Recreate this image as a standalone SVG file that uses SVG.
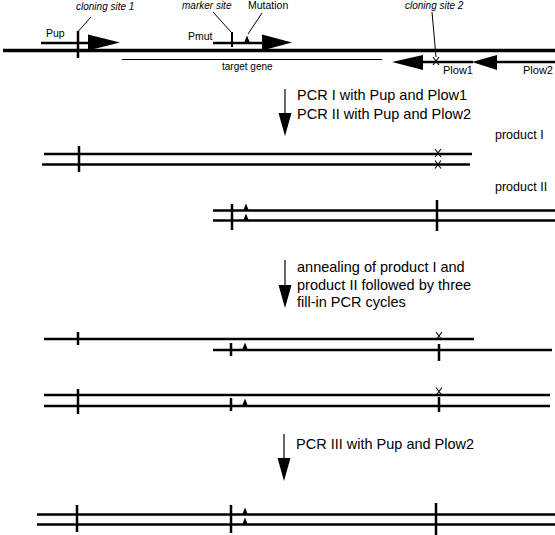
<svg xmlns="http://www.w3.org/2000/svg" xmlns:xlink="http://www.w3.org/1999/xlink" width="555" height="535" viewBox="0 0 555 535">
<style>
.bg{fill:#fff}
.dna{stroke:#000;stroke-width:2.3;fill:none}
.main{stroke:#000;stroke-width:3.5;fill:none}
.primer{stroke:#000;stroke-width:2.5;fill:none}
.thin{stroke:#000;stroke-width:1.2;fill:none}
.tick{stroke:#000;stroke-width:2.5;fill:none}
.lead{stroke:#000;stroke-width:1;fill:none}
.head{fill:#000;stroke:none}
.xm{stroke:#000;stroke-width:1.1;fill:none}
.t{font-family:"Liberation Sans",Arial,sans-serif;fill:#000}
.lab{font-size:10.5px}
.it{font-size:10px;font-style:italic}
.step{font-size:14.5px}
.prod{font-size:12.5px}
</style>
<defs>
<path id="mut" d="M-2.6,0 L2.6,0 L0,-6.5 Z" fill="#000"/>
<path id="xmark" d="M-3,-4 L3,4 M3,-4 L-3,4" class="xm"/>
</defs>
<rect class="bg" x="0" y="0" width="555" height="535"/>

<g id="template">
  <line class="main" x1="3" y1="50.5" x2="555" y2="50.5"/>
  <line class="thin" x1="122" y1="59.5" x2="382" y2="59.5"/>
  <text class="t lab" x="222" y="70" style="font-size:10px">target gene</text>
</g>

<g id="primer-pup">
  <line class="primer" x1="41" y1="43" x2="90" y2="43"/>
  <polygon class="head" points="88,34.5 88,50.5 120,42.5"/>
  <text class="t lab" x="46" y="36.5">Pup</text>
</g>

<g id="cloning-site-1">
  <line class="tick" x1="78" y1="31" x2="78" y2="58"/>
  <line class="lead" x1="91" y1="17" x2="78.5" y2="31"/>
  <text class="t it" x="76" y="10">cloning site 1</text>
</g>

<g id="primer-pmut">
  <line class="primer" x1="213" y1="43" x2="264" y2="43"/>
  <polygon class="head" points="262,34.5 262,50.5 292,42.5"/>
  <text class="t lab" x="188" y="39.5">Pmut</text>
</g>

<g id="marker-site">
  <line class="tick" x1="232" y1="32" x2="232" y2="47" style="stroke-width:2"/>
  <line class="lead" x1="213" y1="12" x2="231" y2="32"/>
  <text class="t it" x="182" y="9">marker site</text>
</g>

<g id="mutation">
  <use xlink:href="#mut" x="247" y="42"/>
  <line class="lead" x1="262" y1="13" x2="248" y2="34"/>
  <text class="t lab" x="248" y="9">Mutation</text>
</g>

<g id="cloning-site-2">
  <line class="lead" x1="432" y1="12" x2="436" y2="57"/>
  <use xlink:href="#xmark" x="436" y="61"/>
  <text class="t it" x="405" y="9">cloning site 2</text>
</g>

<g id="primer-plow1">
  <line class="primer" x1="422" y1="62" x2="473" y2="62"/>
  <polygon class="head" points="423,55 423,70 392,62"/>
  <text class="t lab" x="443" y="74" style="font-size:11px">Plow1</text>
</g>

<g id="primer-plow2">
  <line class="primer" x1="496" y1="62" x2="555" y2="62"/>
  <polygon class="head" points="497,55 497,70 472,62"/>
  <text class="t lab" x="523" y="74" style="font-size:11px">Plow2</text>
</g>

<g id="step-pcr1-2">
  <text class="t step" x="297" y="100">PCR I with Pup and Plow1</text>
  <text class="t step" x="297" y="118.5">PCR II with Pup and Plow2</text>
</g>

<g id="product-1">
  <text class="t prod" x="495" y="139">product I</text>
  <line class="dna" x1="44" y1="154" x2="472" y2="154"/>
  <line class="dna" x1="42" y1="164.5" x2="470" y2="164.5"/>
  <line class="tick" x1="79" y1="146" x2="79" y2="172"/>
  <use xlink:href="#xmark" x="438" y="153"/>
  <use xlink:href="#xmark" x="438" y="164.5"/>
</g>

<g id="product-2">
  <text class="t prod" x="495" y="191">product II</text>
  <line class="dna" x1="213" y1="210.5" x2="555" y2="210.5"/>
  <line class="dna" x1="213" y1="220.5" x2="555" y2="220.5"/>
  <line class="tick" x1="232" y1="204" x2="232" y2="230"/>
  <use xlink:href="#mut" x="246" y="210"/>
  <use xlink:href="#mut" x="246" y="220"/>
  <line class="tick" x1="437" y1="200" x2="437" y2="231"/>
</g>

<g id="step-annealing">
  <text class="t step" x="297" y="272">annealing of product I and</text>
  <text class="t step" x="297" y="289.5">product II followed by three</text>
  <text class="t step" x="297" y="307">fill-in PCR cycles</text>
</g>

<g id="annealed-1">
  <line class="dna" x1="44" y1="339" x2="474" y2="339"/>
  <line class="tick" x1="78" y1="332" x2="78" y2="345"/>
  <use xlink:href="#xmark" x="439" y="336"/>
  <line class="dna" x1="213" y1="350" x2="552" y2="350"/>
  <line class="tick" x1="231" y1="343" x2="231" y2="356"/>
  <use xlink:href="#mut" x="245" y="349"/>
  <line class="tick" x1="439" y1="344" x2="439" y2="361"/>
</g>

<g id="annealed-2">
  <line class="dna" x1="44" y1="395" x2="550" y2="395"/>
  <line class="dna" x1="44" y1="406" x2="550" y2="406"/>
  <line class="tick" x1="78" y1="389" x2="78" y2="414"/>
  <use xlink:href="#xmark" x="439" y="391.5"/>
  <line class="tick" x1="231" y1="398" x2="231" y2="411"/>
  <use xlink:href="#mut" x="245" y="405"/>
  <line class="tick" x1="439" y1="397" x2="439" y2="412"/>
</g>

<g id="step-pcr3">
  <text class="t step" x="296" y="449">PCR III with Pup and Plow2</text>
</g>

<g id="final-product">
  <line class="dna" x1="37" y1="514.5" x2="555" y2="514.5"/>
  <line class="dna" x1="37" y1="524.5" x2="555" y2="524.5"/>
  <line class="tick" x1="77" y1="505" x2="77" y2="532"/>
  <line class="tick" x1="231" y1="505" x2="231" y2="533"/>
  <use xlink:href="#mut" x="245" y="514"/>
  <use xlink:href="#mut" x="245" y="524"/>
  <line class="tick" x1="436" y1="503" x2="436" y2="535"/>
</g>

<g id="connectors">
  <line class="thin" x1="285" y1="89" x2="285" y2="114"/>
  <polygon class="head" points="278.5,113 291.5,113 285,136"/>
  <line class="thin" x1="285" y1="260" x2="285" y2="286"/>
  <polygon class="head" points="278.5,285 291.5,285 285,308"/>
  <line class="thin" x1="284" y1="434" x2="284" y2="459"/>
  <polygon class="head" points="277.5,458 290.5,458 284,481"/>
</g>
</svg>
